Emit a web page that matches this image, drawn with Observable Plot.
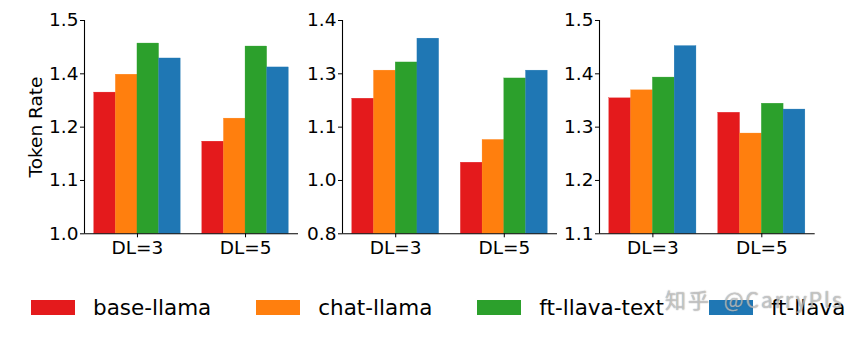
<!DOCTYPE html>
<html><head><meta charset="utf-8">
<script src="https://cdn.jsdelivr.net/npm/d3@7"></script>
<script src="https://cdn.jsdelivr.net/npm/@observablehq/plot@0.6"></script>
<style>
body{margin:0;background:#fff;font-family:"DejaVu Sans",sans-serif;}
#wrap{position:relative;width:865px;height:339px;overflow:hidden;background:#fff;}
.panel{position:absolute;top:0;}
#ylabel{position:absolute;left:35px;top:127px;transform:translate(-50%,-50%) rotate(-90deg);font-size:18.5px;white-space:nowrap;color:#000;}
#legend{position:absolute;left:31px;top:290px;width:900px;height:35px;display:flex;flex-wrap:nowrap;align-items:center;font-size:21.5px;color:#000;white-space:nowrap;}
.item{display:flex;align-items:center;margin-right:45px;flex-shrink:0;white-space:nowrap;}
.sw{width:44px;height:15px;margin-right:18px;flex-shrink:0;}
#wm{position:absolute;left:665px;top:284px;font-size:21px;letter-spacing:2px;word-spacing:6px;font-family:"Noto Sans CJK SC","DejaVu Sans";color:rgba(255,255,255,0.45);text-shadow:0 0 1px rgba(110,110,110,0.55),0 0 1px rgba(110,110,110,0.55);white-space:nowrap;z-index:5;}
</style></head>
<body>
<div id="wrap"></div>
<script>
const groups = ["DL=3", "DL=5"];
const models = ["base-llama", "chat-llama", "ft-llava-text", "ft-llava"];
const colors = ["#e41a1c", "#ff7f0e", "#2ca02c", "#1f77b4"];

// values per panel: [DL=3 row, DL=5 row], in model order
const panel1Values = [[1.331, 1.373, 1.446, 1.411], [1.216, 1.270, 1.439, 1.390]];
const panel2Values = [[1.180, 1.259, 1.282, 1.349], [1.000, 1.064, 1.237, 1.259]];
const panel3Values = [[1.354, 1.369, 1.393, 1.452], [1.327, 1.288, 1.344, 1.333]];

const panel1Ticks = [1.0, 1.125, 1.25, 1.375, 1.5];
const panel1TickLabels = ["1.0", "1.1", "1.2", "1.4", "1.5"];
const panel2Ticks = [0.8, 0.95, 1.1, 1.25, 1.4];
const panel2TickLabels = ["0.8", "1.0", "1.1", "1.3", "1.4"];
const panel3Ticks = [1.1, 1.2, 1.3, 1.4, 1.5];
const panel3TickLabels = ["1.1", "1.2", "1.3", "1.4", "1.5"];

const wrap = document.getElementById("wrap");
const H = 265, frameTop = 20, frameBottom = 233.3;

function panel(values, ticks, labels, frame) {
  const rows = [];
  groups.forEach((g, gi) => models.forEach((m, mi) => rows.push({gi, mi, model: m, value: values[gi][mi]})));
  const ml = 50, mr = 12;
  const left = frame[0] - ml;
  const width = frame[1] - frame[0] + ml + mr;
  const base = ticks[0], topv = ticks[ticks.length - 1];
  const chart = Plot.plot({
    width, height: H,
    marginLeft: ml, marginRight: mr, marginTop: frameTop, marginBottom: H - frameBottom,
    style: {background: "transparent", fontFamily: "DejaVu Sans", fontSize: "18.5px", color: "#000", overflow: "visible"},
    x: {domain: [-0.49, 1.49], axis: null},
    y: {domain: [base, topv], axis: null},
    color: {domain: models, range: colors},
    marks: [
      Plot.rectY(rows, {
        x1: d => d.gi + (d.mi - 2) * 0.2,
        x2: d => d.gi + (d.mi - 1) * 0.2,
        y1: d => base, y2: "value", fill: "model",
        inset: 0, insetLeft: 0, insetRight: 0, stroke: "model", strokeWidth: 0.3
      }),
      Plot.ruleY([base], {stroke: "#000", strokeWidth: 1.1}),
      Plot.ruleX([-0.49], {stroke: "#000", strokeWidth: 1.1}),
      Plot.axisY({ticks, tickFormat: d => labels[ticks.indexOf(d)], tickSize: 4, tickPadding: 2, label: null, stroke: "#000", fill: "#000"}),
      Plot.axisX({ticks: [0, 1], tickFormat: d => groups[d], tickSize: 4, tickPadding: 3, label: null, stroke: "#000", fill: "#000"})
    ]
  });
  chart.classList.add("panel");
  chart.style.left = left + "px";
  wrap.appendChild(chart);
}

panel(panel1Values, panel1Ticks, panel1TickLabels, [84.3, 298.3]);
panel(panel2Values, panel2Ticks, panel2TickLabels, [341.7, 556.7]);
panel(panel3Values, panel3Ticks, panel3TickLabels, [599.3, 815]);

const yl = document.createElement("div");
yl.id = "ylabel"; yl.textContent = "Token Rate";
wrap.appendChild(yl);

const lg = document.createElement("div");
lg.id = "legend";
models.forEach((m, i) => {
  const it = document.createElement("div"); it.className = "item";
  const sw = document.createElement("div"); sw.className = "sw"; sw.style.background = colors[i];
  const tx = document.createElement("span"); tx.textContent = m;
  it.appendChild(sw); it.appendChild(tx); lg.appendChild(it);
});
wrap.appendChild(lg);

const wm = document.createElement("div");
wm.id = "wm"; wm.textContent = "知乎 @CarryPls";
wrap.appendChild(wm);
</script>
</body></html>
